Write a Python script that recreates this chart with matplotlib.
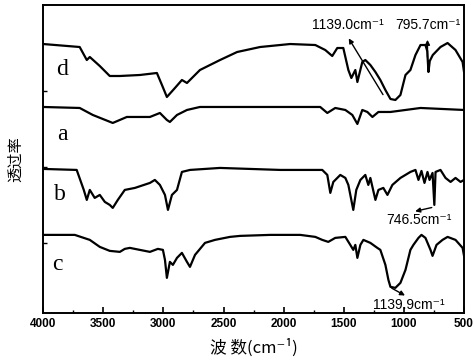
import matplotlib
matplotlib.use("Agg")
import matplotlib.pyplot as plt
from matplotlib.ticker import MultipleLocator

# FTIR spectra, transmittance in arbitrary units (already offset per curve)
wn_d = [4000, 3696, 3637, 3612, 3529, 3446, 3362, 3196, 3054, 3012, 2971, 2904, 2846, 2804,
        2696, 2529, 2387, 2196, 1946, 1737, 1654, 1596, 1554, 1504, 1462, 1437, 1404, 1387,
        1346, 1321, 1279, 1237, 1196, 1154, 1112, 1071, 1029, 987, 946, 904, 862, 821, 806,
        796, 785, 760, 696, 637, 571, 512, 500]
t_d = [269, 266, 253, 256, 247, 237, 237, 238, 240, 228, 216, 225, 233, 230,
       243, 253, 261, 266, 269, 268, 263, 257, 265, 265, 243, 235, 243, 231,
       251, 253, 248, 241, 233, 223, 214, 213, 218, 238, 243, 258, 268, 268, 262,
       241, 252, 258, 266, 270, 263, 251, 241]

wn_a = [4000, 3696, 3587, 3421, 3304, 3112, 3029, 2971, 2946, 2887, 2804, 2696, 2362, 2196,
        1696, 1637, 1571, 1487, 1429, 1387, 1346, 1304, 1262, 1212, 1112, 862, 500]
t_a = [206, 205, 198, 190, 196, 196, 200, 193, 191, 198, 203, 206, 206, 206,
       206, 200, 205, 203, 198, 189, 203, 201, 196, 201, 201, 205, 203]

wn_b = [4000, 3721, 3662, 3637, 3612, 3571, 3529, 3487, 3446, 3421, 3379, 3321, 3237, 3112,
        3071, 3029, 2987, 2962, 2929, 2887, 2846, 2779, 2529, 2029, 1679, 1637, 1612, 1587,
        1529, 1487, 1462, 1421, 1396, 1362, 1321, 1296, 1279, 1237, 1212, 1171, 1137, 1096,
        1029, 946, 904, 879, 854, 829, 804, 787, 762, 747, 737, 696, 654, 612, 571, 529, 500]
t_b = [144, 143, 123, 113, 123, 115, 118, 111, 108, 105, 113, 123, 125, 130,
       133, 128, 118, 103, 118, 123, 141, 143, 145, 143, 143, 138, 120, 131,
       138, 135, 128, 103, 123, 133, 138, 128, 135, 113, 123, 125, 118, 128,
       135, 141, 143, 133, 142, 130, 141, 133, 140, 108, 141, 143, 135, 131, 135, 131, 133]

wn_c = [4000, 3737, 3612, 3529, 3446, 3362, 3321, 3279, 3196, 3112, 3046, 3004, 2987, 2971,
        2946, 2921, 2887, 2846, 2804, 2779, 2737, 2654, 2571, 2446, 2362, 2112, 1862, 1737,
        1679, 1629, 1571, 1487, 1446, 1421, 1404, 1387, 1362, 1337, 1279, 1221, 1196, 1154,
        1129, 1112, 1071, 1029, 987, 946, 921, 879, 854, 821, 779, 762, 729, 679, 637, 571,
        512, 500]
t_c = [78, 78, 73, 66, 62, 61, 64, 65, 63, 61, 64, 63, 53, 35,
       51, 48, 55, 60, 51, 46, 58, 70, 73, 76, 77, 78, 78, 76,
       73, 71, 75, 76, 68, 63, 68, 55, 68, 73, 70, 65, 63, 48,
       33, 26, 25, 30, 43, 63, 68, 75, 78, 75, 63, 57, 68, 73, 76, 73,
       65, 57]

curves = [("d", wn_d, t_d), ("a", wn_a, t_a), ("b", wn_b, t_b), ("c", wn_c, t_c)]
curve_labels = {"d": (3840, 243), "a": (3840, 178), "b": (3860, 118), "c": (3880, 48)}

fig = plt.figure(figsize=(4.74, 3.6), dpi=100)
ax = fig.add_axes([0.091, 0.131, 0.888, 0.855])

for name, wn, t in curves:
    ax.plot(wn, t, color="black", lw=1.6, solid_joinstyle="round")
    lx, ly = curve_labels[name]
    ax.text(lx, ly, name, fontsize=17, family="Liberation Serif", ha="center", va="center")

ax.set_xlim(4000, 500)
ax.set_ylim(0, 308)

ax.xaxis.set_major_locator(MultipleLocator(500))
ax.xaxis.set_minor_locator(MultipleLocator(250))
ax.tick_params(axis="x", which="major", direction="in", length=4, width=1.2, pad=4)
ax.tick_params(axis="x", which="minor", direction="in", length=2.5, width=1.0)
ax.set_yticks([70, 146, 222])
ax.tick_params(axis="y", direction="in", length=3, width=1.0, labelleft=False)
for lab in ax.get_xticklabels():
    lab.set_fontfamily("Liberation Sans")
    lab.set_fontweight("bold")
    lab.set_fontsize(8.5)
for sp in ax.spines.values():
    sp.set_linewidth(1.4)

ax.set_xlabel("波 数(cm⁻¹)", family=["Noto Sans CJK SC", "DejaVu Sans"], fontsize=12, labelpad=6)
ax.set_ylabel("透过率", family=["Noto Sans CJK SC", "DejaVu Sans"], fontsize=11, labelpad=14)

# peak annotations
afont = dict(family=["Liberation Sans", "DejaVu Sans"], fontsize=10, ha="center", va="center")
arrow = dict(arrowstyle="-|>", color="black", lw=1.0, mutation_scale=7)

ax.text(1463, 288, "1139.0cm⁻¹", **afont)
ax.annotate("", xy=(1471, 277), xytext=(1162, 216), arrowprops=arrow)

ax.text(800, 288, "795.7cm⁻¹", **afont)
ax.annotate("", xy=(804, 276), xytext=(804, 253), arrowprops=arrow)

ax.text(879, 93, "746.5cm⁻¹", **afont)
ax.annotate("", xy=(929, 101), xytext=(746, 106), arrowprops=arrow)

ax.text(963, 8, "1139.9cm⁻¹", **afont)
ax.annotate("", xy=(971, 16), xytext=(1121, 26), arrowprops=arrow)

fig.savefig("out.png", dpi=100)
